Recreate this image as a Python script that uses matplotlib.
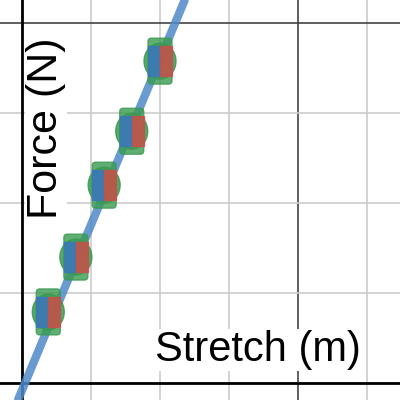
import matplotlib.pyplot as plt
from matplotlib.patches import FancyBboxPatch, Rectangle, Ellipse
import numpy as np

plt.rcParams['font.family'] = ['Liberation Sans', 'DejaVu Sans']

stretch = [0.38, 0.78, 1.19, 1.59, 2.0]
force = [0.79, 1.40, 2.20, 2.80, 3.58]
slope = 1.84
intercept = -0.08

fig = plt.figure(figsize=(4, 4), dpi=100)
ax = fig.add_axes([0, 0, 1, 1])
ax.set_xlim(-0.32, 5.48)
ax.set_ylim(-0.19, 4.26)
ax.axis('off')

for gx in range(0, 6):
    ax.axvline(gx, color='#444444' if gx == 4 else '#cccccc', lw=1.2, zorder=0)
for gy in np.arange(0, 4.5, 1):
    ax.axhline(gy, color='#444444' if gy == 4 else '#cccccc', lw=1.2, zorder=0)
ax.axvline(0, color='black', lw=2, zorder=1)
ax.axhline(0, color='black', lw=2, zorder=1)

xs = np.array([-1, 6])
ax.plot(xs, slope * xs + intercept, color='#4f8ac9', lw=6, alpha=0.85, zorder=2,
        solid_capstyle='butt')

# marker sizes in data units
w = 24 / 69
h = 46 / 90
for x, y in zip(stretch, force):
    ax.add_patch(Ellipse((x, y), 32 / 69, 36 / 90, color='#3a9a50', alpha=0.85, zorder=3))
    ax.add_patch(FancyBboxPatch((x - w / 2, y - h / 2), w, h,
                                boxstyle='round,pad=0,rounding_size=0.05',
                                color='#3a9a50', alpha=0.8, zorder=4, mutation_aspect=69 / 90))
    ax.add_patch(Rectangle((x - w / 2, y - 15 / 90), w / 2, 30 / 90,
                           color='#3b78b8', alpha=0.9, zorder=5))
    ax.add_patch(Rectangle((x, y - 15 / 90), w / 2, 30 / 90,
                           color='#c9504a', alpha=0.85, zorder=5))

fig.text(46 / 400, 1 - 128 / 400, 'Force (N)', rotation=90, ha='center', va='center',
         fontsize=31, zorder=6, bbox=dict(facecolor='white', edgecolor='none', pad=1))
fig.text(258 / 400, 1 - 350 / 400, 'Stretch (m)', ha='center', va='center', fontsize=30,
         zorder=6, bbox=dict(facecolor='white', edgecolor='none', pad=1))

fig.savefig('out.png', dpi=100)
